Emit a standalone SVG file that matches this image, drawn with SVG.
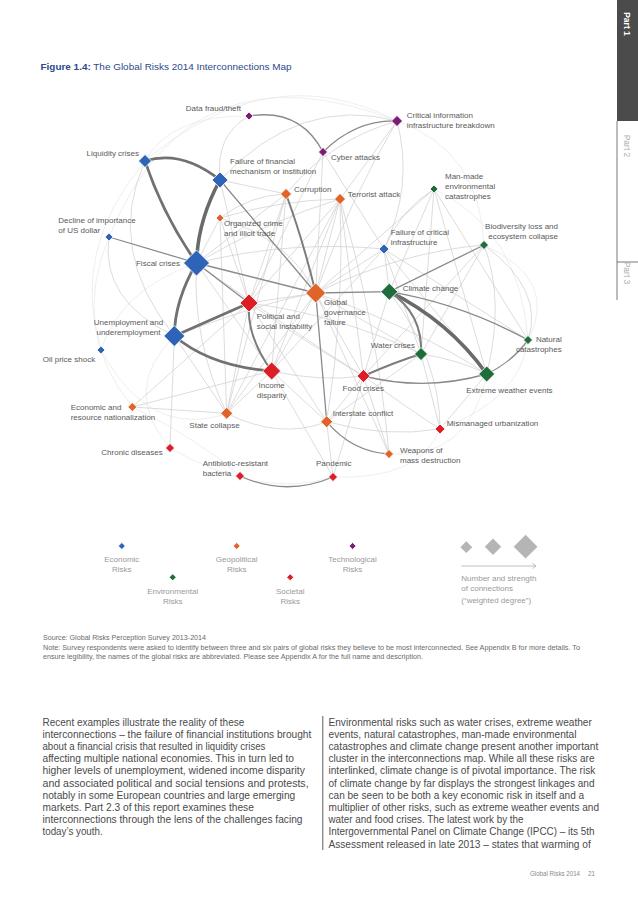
<svg xmlns="http://www.w3.org/2000/svg" width="638" height="903" viewBox="0 0 638 903">
<style>
text{font-family:"Liberation Sans",Arial,sans-serif}
.lb{font-size:8px;fill:#5a5a5a}
.lg{font-size:8px;fill:#9a9a9a}
.title{font-size:9.5px;fill:#2d4a8a}
.body{font-size:10.5px;fill:#4a4a4a}
.sm{font-size:6.3px;fill:#6a6a6a}
.eco{fill:#2f63b8;stroke:#fff;stroke-width:0.8}
.geo{fill:#e0642a;stroke:#fff;stroke-width:0.8}
.env{fill:#1f6d3b;stroke:#fff;stroke-width:0.8}
.soc{fill:#dc1f26;stroke:#fff;stroke-width:0.8}
.tec{fill:#7c1d74;stroke:#fff;stroke-width:0.8}
.vl{fill:none;stroke:#e6e6e6;stroke-width:0.7}
.l{fill:none;stroke:#cdcdcd;stroke-width:0.7}
.d{fill:none;stroke:#7c7c7c;stroke-linecap:round}
.w1{stroke-width:1.3;stroke:#8a8a8a}
.w2{stroke-width:2}
.w3{stroke-width:2.8;stroke:#717171}
.w4{stroke-width:3.6;stroke:#6a6a6a}
</style>
<rect width="638" height="903" fill="#fff"/>

<!-- side tabs -->
<g id="side-tabs">
<rect x="617" y="0" width="21" height="121" fill="#4b4b4b"/>
<line x1="617" y1="121" x2="617" y2="300" stroke="#555" stroke-width="0.8"/>
<line x1="617" y1="262" x2="638" y2="262" stroke="#555" stroke-width="0.8"/>
<text transform="translate(624,24) rotate(90)" text-anchor="middle" font-size="8.5" fill="#fff" font-weight="bold">Part 1</text>
<text transform="translate(624,146) rotate(90)" text-anchor="middle" font-size="8.5" fill="#b0b0b0">Part 2</text>
<text transform="translate(624,273) rotate(90)" text-anchor="middle" font-size="8.5" fill="#b0b0b0">Part 3</text>
</g>

<text x="40.5" y="69.5" class="title" textLength="251" lengthAdjust="spacingAndGlyphs"><tspan font-weight="bold">Figure 1.4:</tspan> The Global Risks 2014 Interconnections Map</text>

<g id="connectors">
<!-- very light outer arcs -->
<path class="vl" d="M397,121 Q270,55 145,161"/>
<path class="vl" d="M397,121 Q190,40 109,237"/>
<path class="vl" d="M249,116 Q170,115 145,161"/>
<path class="vl" d="M145,161 Q70,250 101,350"/>
<path class="vl" d="M109,237 Q70,330 132.3,407"/>
<path class="vl" d="M101,350 Q120,290 196.5,263"/>
<path class="vl" d="M170,448 Q260,500 333,477"/>
<path class="vl" d="M132.3,407 Q200,440 240,476"/>
<path class="vl" d="M528,340 Q560,280 484,245"/>
<path class="vl" d="M434,189 Q520,230 528,340"/>
<path class="vl" d="M440,429 Q520,400 528,340"/>
<path class="vl" d="M389,454 Q470,460 486.7,374"/>
<path class="vl" d="M397,121 Q480,150 484,245"/>
<path class="vl" d="M170,448 Q120,390 174.3,336"/>
<path class="vl" d="M101,350 Q150,440 226.7,413.3"/>
<path class="vl" d="M333,477 Q420,480 440,429"/>
<!-- light connectors -->
<path class="l" d="M397,121 Q300,95 220,180"/>
<path class="l" d="M397,121 Q414,185 384,249"/>
<path class="l" d="M397,121 L340,199"/>
<path class="l" d="M397,121 Q330,140 286,194"/>
<path class="l" d="M397,121 Q350,200 315.7,293"/>
<path class="l" d="M323,152 L315.7,293"/>
<path class="l" d="M323,152 L384,249"/>
<path class="l" d="M323,152 L249,303"/>
<path class="l" d="M249,116 Q215,135 220,180"/>
<path class="l" d="M340,199 L249,303"/>
<path class="l" d="M340,199 L271.7,371"/>
<path class="l" d="M340,199 L226.7,413.3"/>
<path class="l" d="M340,199 L315.7,293"/>
<path class="l" d="M340,199 Q345,310 326.7,421.7"/>
<path class="l" d="M340,199 L363.5,376"/>
<path class="l" d="M340,199 Q270,220 196.5,263"/>
<path class="l" d="M340,199 Q280,200 220,218"/>
<path class="l" d="M340,199 Q378,330 389,454"/>
<path class="l" d="M286,194 L249,303"/>
<path class="l" d="M286,194 L271.7,371"/>
<path class="l" d="M286,194 L226.7,413.3"/>
<path class="l" d="M286,194 Q250,195 220,218"/>
<path class="l" d="M286,194 L220,180"/>
<path class="l" d="M286,194 L196.5,263"/>
<path class="l" d="M220,218 L249,303"/>
<path class="l" d="M220,218 L226.7,413.3"/>
<path class="l" d="M220,218 L196.5,263"/>
<path class="l" d="M220,218 Q290,240 315.7,293"/>
<path class="l" d="M220,180 L249,303"/>
<path class="l" d="M196.5,263 Q290,240 384,249"/>
<path class="l" d="M196.5,263 L271.7,371"/>
<path class="l" d="M196.5,263 Q192,340 226.7,413.3"/>
<path class="l" d="M196.5,263 Q290,330 363.5,376"/>
<path class="l" d="M315.7,293 L249,303"/>
<path class="l" d="M315.7,293 L271.7,371"/>
<path class="l" d="M315.7,293 L226.7,413.3"/>
<path class="l" d="M315.7,293 L363.5,376"/>
<path class="l" d="M315.7,293 L421,354"/>
<path class="l" d="M315.7,293 L384,249"/>
<path class="l" d="M315.7,293 Q400,252 484,245"/>
<path class="l" d="M315.7,293 L434,189"/>
<path class="l" d="M315.7,293 Q420,330 486.7,374"/>
<path class="l" d="M249,303 Q310,345 363.5,376"/>
<path class="l" d="M249,303 L326.7,421.7"/>
<path class="l" d="M249,303 L226.7,413.3"/>
<path class="l" d="M249,303 Q340,315 421,354"/>
<path class="l" d="M174.3,336 L226.7,413.3"/>
<path class="l" d="M174.3,336 L170,448"/>
<path class="l" d="M174.3,336 Q270,300 315.7,293"/>
<path class="l" d="M271.7,371 Q320,382 363.5,376"/>
<path class="l" d="M271.7,371 L226.7,413.3"/>
<path class="l" d="M271.7,371 L326.7,421.7"/>
<path class="l" d="M271.7,371 L333,477"/>
<path class="l" d="M271.7,371 L132.3,407"/>
<path class="l" d="M363.5,376 L484,245"/>
<path class="l" d="M363.5,376 L389.3,291.7"/>
<path class="l" d="M363.5,376 L326.7,421.7"/>
<path class="l" d="M363.5,376 Q410,410 440,429"/>
<path class="l" d="M421,354 L326.7,421.7"/>
<path class="l" d="M421,354 L440,429"/>
<path class="l" d="M421,354 L484,245"/>
<path class="l" d="M421,354 Q460,360 486.7,374"/>
<path class="l" d="M421,354 L434,189"/>
<path class="l" d="M421,354 L384,249"/>
<path class="l" d="M389.3,291.7 L384,249"/>
<path class="l" d="M389.3,291.7 L434,189"/>
<path class="l" d="M389.3,291.7 Q440,360 440,429"/>
<path class="l" d="M486.7,374 Q505,300 484,245"/>
<path class="l" d="M486.7,374 L434,189"/>
<path class="l" d="M486.7,374 L384,249"/>
<path class="l" d="M486.7,374 L440,429"/>
<path class="l" d="M528,340 Q545,290 484,245"/>
<path class="l" d="M528,340 L384,249"/>
<path class="l" d="M528,340 L434,189"/>
<path class="l" d="M434,189 Q400,210 384,249"/>
<path class="l" d="M326.7,421.7 Q385,438 440,429"/>
<path class="l" d="M226.7,413.3 Q280,440 326.7,421.7"/>
<path class="l" d="M132.3,407 L249,303"/>
<path class="l" d="M132.3,407 L226.7,413.3"/>
<path class="l" d="M109,237 Q100,300 174.3,336"/>
<path class="l" d="M145,161 Q105,250 174.3,336"/>
<path class="l" d="M389,454 L315.7,293"/>
<path class="l" d="M389,454 L363.5,376"/>
<path class="l" d="M333,477 L363.5,376"/>
<path class="l" d="M333,477 L326.7,421.7"/>
<path class="l" d="M384,249 L271.7,371"/>
<!-- strong connectors -->
<path class="d w1" d="M249,116 Q300,108 323,152"/>
<path class="d w1" d="M323,152 Q356,119.5 397,121"/>
<path class="d w3" d="M145,161 Q181.5,149.5 220,180"/>
<path class="d w3" d="M145,161 Q163,215 196.5,263"/>
<path class="d w4" d="M220,180 Q197.75,220.5 196.5,263"/>
<path class="d w1" d="M109,237 L196.5,263"/>
<path class="d w3" d="M196.5,263 Q174.6,300.5 174.3,336"/>
<path class="d w1" d="M196.5,263 L249,303"/>
<path class="d w1" d="M196.5,263 L315.7,293"/>
<path class="d w3" d="M174.3,336 L249,303"/>
<path class="d w3" d="M174.3,336 Q210.4,366.5 271.7,371"/>
<path class="d w2" d="M249,303 Q246.3,336.4 271.7,371"/>
<path class="d w1" d="M220,180 L315.7,293"/>
<path class="d w2" d="M286,194 Q303,240 315.7,293"/>
<path class="d w1" d="M315.7,293 L389.3,291.7"/>
<path class="d w1" d="M315.7,293 L326.7,421.7"/>
<path class="d w1" d="M389.3,291.7 L484,245"/>
<path class="d w4" d="M389.3,291.7 Q448.3,320.6 486.7,374"/>
<path class="d w2" d="M389.3,291.7 Q423,313.8 421,354"/>
<path class="d w1" d="M389.3,291.7 Q462,304 528,340"/>
<path class="d w2" d="M421,354 Q395,362 363.5,376"/>
<path class="d w1" d="M363.5,376 Q425,391.6 486.7,374"/>
<path class="d w1" d="M528,340 Q512,362 486.7,374"/>
<path class="d w1" d="M326.7,421.7 Q352,452 389,454"/>
<path class="d w1" d="M240,476 Q286,497 333,477"/>
</g>

<g id="nodes">
<g id="n-data-fraud"><path class="tec" d="M249,112 L253,116 L249,120 L245,116Z"/><text class="lb" x="241" y="111" text-anchor="end">Data fraud/theft</text></g>
<g id="n-critical-information"><path class="tec" d="M397,115.5 L402.5,121 L397,126.5 L391.5,121Z"/><text class="lb" x="406.7" y="118">Critical information</text><text class="lb" x="406.7" y="128">infrastructure breakdown</text></g>
<g id="n-liquidity-crises"><path class="eco" d="M145,154.5 L151.5,161 L145,167.5 L138.5,161Z"/><text class="lb" x="139" y="155.7" text-anchor="end">Liquidity crises</text></g>
<g id="n-failure-financial"><path class="eco" d="M220,172 L228,180 L220,188 L212,180Z"/><text class="lb" x="230" y="164">Failure of financial</text><text class="lb" x="230" y="173.7">mechanism or institution</text></g>
<g id="n-cyber-attacks"><path class="tec" d="M323,147.5 L327.5,152 L323,156.5 L318.5,152Z"/><text class="lb" x="331" y="159.7">Cyber attacks</text></g>
<g id="n-corruption"><path class="geo" d="M286,188.5 L291.5,194 L286,199.5 L280.5,194Z"/><text class="lb" x="294" y="192">Corruption</text></g>
<g id="n-terrorist-attack"><path class="geo" d="M340,193.5 L345.5,199 L340,204.5 L334.5,199Z"/><text class="lb" x="347.7" y="197">Terrorist attack</text></g>
<g id="n-man-made"><path class="env" d="M434,185 L438,189 L434,193 L430,189Z"/><text class="lb" x="445" y="179">Man-made</text><text class="lb" x="445" y="189">environmental</text><text class="lb" x="445" y="199">catastrophes</text></g>
<g id="n-organized-crime"><path class="geo" d="M220,214 L224,218 L220,222 L216,218Z"/><text class="lb" x="224" y="226.3">Organized crime</text><text class="lb" x="224" y="236.3">and illicit trade</text></g>
<g id="n-decline-us-dollar"><path class="eco" d="M109,233 L113,237 L109,241 L105,237Z"/><text class="lb" x="58.3" y="223">Decline of importance</text><text class="lb" x="58.3" y="233">of US dollar</text></g>
<g id="n-failure-critical-infrastructure"><path class="eco" d="M384,244 L389,249 L384,254 L379,249Z"/><text class="lb" x="390.7" y="235.3">Failure of critical</text><text class="lb" x="390.7" y="245.3">infrastructure</text></g>
<g id="n-biodiversity"><path class="env" d="M484,240.5 L488.5,245 L484,249.5 L479.5,245Z"/><text class="lb" x="558" y="229" text-anchor="end">Biodiversity loss and</text><text class="lb" x="558" y="239" text-anchor="end">ecosystem collapse</text></g>
<g id="n-fiscal-crises"><path class="eco" d="M196.5,250 L209.5,263 L196.5,276 L183.5,263Z"/><text class="lb" x="180" y="266.3" text-anchor="end">Fiscal crises</text></g>
<g id="n-global-governance"><path class="geo" d="M315.7,283 L325.7,293 L315.7,303 L305.7,293Z"/><text class="lb" x="324" y="305">Global</text><text class="lb" x="324" y="315">governance</text><text class="lb" x="324" y="325">failure</text></g>
<g id="n-climate-change"><path class="env" d="M389.3,283.2 L397.8,291.7 L389.3,300.2 L380.8,291.7Z"/><text class="lb" x="402.7" y="291.3">Climate change</text></g>
<g id="n-political-instability"><path class="soc" d="M249,294 L258,303 L249,312 L240,303Z"/><text class="lb" x="256.7" y="319">Political and</text><text class="lb" x="256.7" y="329.3">social instability</text></g>
<g id="n-unemployment"><path class="eco" d="M174.3,325.5 L184.8,336 L174.3,346.5 L163.8,336Z"/><text class="lb" x="128.5" y="324.7" text-anchor="middle">Unemployment and</text><text class="lb" x="128.5" y="334.7" text-anchor="middle">underemployment</text></g>
<g id="n-natural-catastrophes"><path class="env" d="M528,335.5 L532.5,340 L528,344.5 L523.5,340Z"/><text class="lb" x="561.7" y="342.3" text-anchor="end">Natural</text><text class="lb" x="561.7" y="352" text-anchor="end">catastrophes</text></g>
<g id="n-water-crises"><path class="env" d="M421,347.5 L427.5,354 L421,360.5 L414.5,354Z"/><text class="lb" x="415" y="348" text-anchor="end">Water crises</text></g>
<g id="n-oil-price-shock"><path class="eco" d="M101,346 L105,350 L101,354 L97,350Z"/><text class="lb" x="42.7" y="362">Oil price shock</text></g>
<g id="n-income-disparity"><path class="soc" d="M271.7,362 L280.7,371 L271.7,380 L262.7,371Z"/><text class="lb" x="271.7" y="388" text-anchor="middle">Income</text><text class="lb" x="271.7" y="398" text-anchor="middle">disparity</text></g>
<g id="n-food-crises"><path class="soc" d="M363.5,369.5 L370,376 L363.5,382.5 L357,376Z"/><text class="lb" x="363.3" y="390.7" text-anchor="middle">Food crises</text></g>
<g id="n-extreme-weather"><path class="env" d="M486.7,366 L494.7,374 L486.7,382 L478.7,374Z"/><text class="lb" x="509.5" y="393" text-anchor="middle">Extreme weather events</text></g>
<g id="n-economic-nationalization"><path class="geo" d="M132.3,402.5 L136.8,407 L132.3,411.5 L127.8,407Z"/><text class="lb" x="70.7" y="409.7">Economic and</text><text class="lb" x="70.7" y="420">resource nationalization</text></g>
<g id="n-state-collapse"><path class="geo" d="M226.7,407.3 L232.7,413.3 L226.7,419.3 L220.7,413.3Z"/><text class="lb" x="214.5" y="428" text-anchor="middle">State collapse</text></g>
<g id="n-interstate-conflict"><path class="geo" d="M326.7,415.7 L332.7,421.7 L326.7,427.7 L320.7,421.7Z"/><text class="lb" x="332.7" y="415.7">Interstate conflict</text></g>
<g id="n-mismanaged-urbanization"><path class="soc" d="M440,424 L445,429 L440,434 L435,429Z"/><text class="lb" x="446.7" y="425.7">Mismanaged urbanization</text></g>
<g id="n-chronic-diseases"><path class="soc" d="M170,443.5 L174.5,448 L170,452.5 L165.5,448Z"/><text class="lb" x="162.7" y="454.7" text-anchor="end">Chronic diseases</text></g>
<g id="n-weapons"><path class="geo" d="M389,449.5 L393.5,454 L389,458.5 L384.5,454Z"/><text class="lb" x="400" y="453">Weapons of</text><text class="lb" x="400" y="463">mass destruction</text></g>
<g id="n-antibiotic"><path class="soc" d="M240,471.5 L244.5,476 L240,480.5 L235.5,476Z"/><text class="lb" x="202.7" y="466.3">Antibiotic-resistant</text><text class="lb" x="202.7" y="476.3">bacteria</text></g>
<g id="n-pandemic"><path class="soc" d="M333,472.5 L337.5,477 L333,481.5 L328.5,477Z"/><text class="lb" x="316" y="466.3">Pandemic</text></g>
</g>

<g id="legend">
<path class="eco" d="M121.8,542.5 L125.3,546 L121.8,549.5 L118.3,546Z"/>
<text class="lg" x="121.8" y="562" text-anchor="middle">Economic</text><text class="lg" x="121.8" y="572" text-anchor="middle">Risks</text>
<path class="env" d="M172.7,573.8 L176.2,577.3 L172.7,580.8 L169.2,577.3Z"/>
<text class="lg" x="172.7" y="594" text-anchor="middle">Environmental</text><text class="lg" x="172.7" y="604" text-anchor="middle">Risks</text>
<path class="geo" d="M236.7,542.5 L240.2,546 L236.7,549.5 L233.2,546Z"/>
<text class="lg" x="236.7" y="562" text-anchor="middle">Geopolitical</text><text class="lg" x="236.7" y="572" text-anchor="middle">Risks</text>
<path class="soc" d="M290.2,573.8 L293.7,577.3 L290.2,580.8 L286.7,577.3Z"/>
<text class="lg" x="290.2" y="594" text-anchor="middle">Societal</text><text class="lg" x="290.2" y="604" text-anchor="middle">Risks</text>
<path class="tec" d="M352.6,542.5 L356.1,546 L352.6,549.5 L349.1,546Z"/>
<text class="lg" x="352.6" y="562" text-anchor="middle">Technological</text><text class="lg" x="352.6" y="572" text-anchor="middle">Risks</text>
<path fill="#b5b5b5" d="M466.3,541.3 L472.2,547.2 L466.3,553.1 L460.4,547.2Z"/>
<path fill="#b5b5b5" d="M493,538.5 L501.2,546.7 L493,554.9 L484.8,546.7Z"/>
<path fill="#b5b5b5" d="M525.6,534.8 L537.5,546.7 L525.6,558.6 L513.7,546.7Z"/>
<line x1="461.3" y1="566" x2="536" y2="566" stroke="#b0b0b0" stroke-width="0.8"/>
<path d="M532.5,563.5 L536,566 L532.5,568.5" fill="none" stroke="#b0b0b0" stroke-width="0.8"/>
<text class="lg" x="461.3" y="581">Number and strength</text>
<text class="lg" x="461.3" y="591">of connections</text>
<text class="lg" x="461.3" y="603">(“weighted degree”)</text>
</g>

<g id="notes">
<text class="sm" x="43" y="639.5" textLength="163" lengthAdjust="spacingAndGlyphs">Source: Global Risks Perception Survey 2013-2014</text>
<text class="sm" x="43" y="649.5" textLength="537" lengthAdjust="spacingAndGlyphs">Note: Survey respondents were asked to identify between three and six pairs of global risks they believe to be most interconnected. See Appendix B for more details. To</text>
<text class="sm" x="43" y="659" textLength="380" lengthAdjust="spacingAndGlyphs">ensure legibility, the names of the global risks are abbreviated. Please see Appendix A for the full name and description.</text>
</g>

<g id="body-text">
<text class="body" x="42.5" y="725.5" textLength="201.8" lengthAdjust="spacingAndGlyphs">Recent examples illustrate the reality of these</text>
<text class="body" x="42.5" y="737.7" textLength="268.8" lengthAdjust="spacingAndGlyphs">interconnections – the failure of financial institutions brought</text>
<text class="body" x="42.5" y="749.9" textLength="222.9" lengthAdjust="spacingAndGlyphs">about a financial crisis that resulted in liquidity crises</text>
<text class="body" x="42.5" y="762.1" textLength="251.5" lengthAdjust="spacingAndGlyphs">affecting multiple national economies. This in turn led to</text>
<text class="body" x="42.5" y="774.3" textLength="262.3" lengthAdjust="spacingAndGlyphs">higher levels of unemployment, widened income disparity</text>
<text class="body" x="42.5" y="786.5" textLength="266.1" lengthAdjust="spacingAndGlyphs">and associated political and social tensions and protests,</text>
<text class="body" x="42.5" y="798.7" textLength="252.7" lengthAdjust="spacingAndGlyphs">notably in some European countries and large emerging</text>
<text class="body" x="42.5" y="810.9" textLength="211.4" lengthAdjust="spacingAndGlyphs">markets. Part 2.3 of this report examines these</text>
<text class="body" x="42.5" y="823.1" textLength="260" lengthAdjust="spacingAndGlyphs">interconnections through the lens of the challenges facing</text>
<text class="body" x="42.5" y="835.3" textLength="60.2" lengthAdjust="spacingAndGlyphs">today’s youth.</text>
<line x1="322.8" y1="716" x2="322.8" y2="850" stroke="#333" stroke-width="0.8"/>
<text class="body" x="328.5" y="725.5" textLength="263.3" lengthAdjust="spacingAndGlyphs">Environmental risks such as water crises, extreme weather</text>
<text class="body" x="328.5" y="737.7" textLength="248" lengthAdjust="spacingAndGlyphs">events, natural catastrophes, man-made environmental</text>
<text class="body" x="328.5" y="749.9" textLength="269.8" lengthAdjust="spacingAndGlyphs">catastrophes and climate change present another important</text>
<text class="body" x="328.5" y="762.1" textLength="266" lengthAdjust="spacingAndGlyphs">cluster in the interconnections map. While all these risks are</text>
<text class="body" x="328.5" y="774.3" textLength="266.8" lengthAdjust="spacingAndGlyphs">interlinked, climate change is of pivotal importance. The risk</text>
<text class="body" x="328.5" y="786.5" textLength="266" lengthAdjust="spacingAndGlyphs">of climate change by far displays the strongest linkages and</text>
<text class="body" x="328.5" y="798.7" textLength="255.7" lengthAdjust="spacingAndGlyphs">can be seen to be both a key economic risk in itself and a</text>
<text class="body" x="328.5" y="810.9" textLength="270.5" lengthAdjust="spacingAndGlyphs">multiplier of other risks, such as extreme weather events and</text>
<text class="body" x="328.5" y="823.1" textLength="195" lengthAdjust="spacingAndGlyphs">water and food crises. The latest work by the</text>
<text class="body" x="328.5" y="835.3" textLength="266" lengthAdjust="spacingAndGlyphs">Intergovernmental Panel on Climate Change (IPCC) – its 5th</text>
<text class="body" x="328.5" y="847.5" textLength="262.2" lengthAdjust="spacingAndGlyphs">Assessment released in late 2013 – states that warming of</text>
</g>

<g id="footer">
<text class="sm" x="530" y="875.5" style="fill:#8a8a8a" textLength="50" lengthAdjust="spacingAndGlyphs">Global Risks 2014</text>
<text class="sm" x="588" y="875.5" style="fill:#8a8a8a">21</text>
</g>
</svg>
